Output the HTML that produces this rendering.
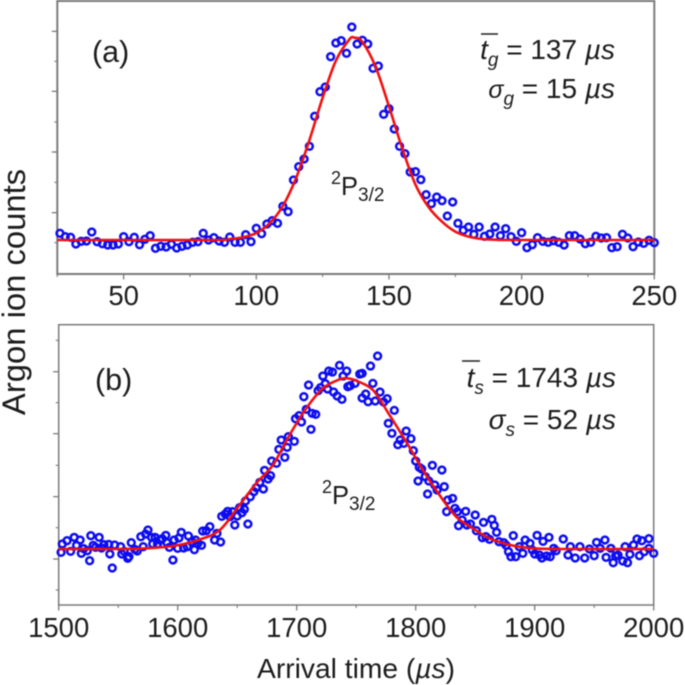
<!DOCTYPE html>
<html lang="en">
<head>
<meta charset="utf-8">
<title>Argon ion arrival time</title>
<style>
html,body{margin:0;padding:0;background:#fff;width:685px;height:685px;overflow:hidden}
svg{display:block;filter:blur(0.4px)}
text{font-family:"Liberation Sans",sans-serif;fill:#1c1c1c}
</style>
</head>
<body>
<svg id="chart" xmlns="http://www.w3.org/2000/svg" width="685" height="685" viewBox="0 0 685 685">
  <text transform="translate(25,292) rotate(-90)" text-anchor="middle" font-size="32.8">Argon ion counts</text>
  <text x="356" y="678" text-anchor="middle" font-size="28.2">Arrival time (<tspan font-style="italic">µs</tspan>)</text>

  <text x="92" y="62" font-size="30.5">(a)</text>
  <text x="95" y="390" font-size="30.5">(b)</text>

  <g>
    <line x1="481" y1="34" x2="498" y2="34" stroke="#222" stroke-width="1.4"></line>
    <text x="615" y="59" text-anchor="end" font-size="28"><tspan font-style="italic">t</tspan><tspan font-style="italic" font-size="19" dy="7">g</tspan><tspan dy="-7"> = 137 </tspan><tspan font-style="italic">µs</tspan></text>
  </g>
  <text x="615" y="98" text-anchor="end" font-size="28"><tspan font-style="italic" font-size="25">σ</tspan><tspan font-style="italic" font-size="19" dy="7">g</tspan><tspan dy="-7"> = 15 </tspan><tspan font-style="italic">µs</tspan></text>

  <g>
    <line x1="462" y1="361" x2="480" y2="361" stroke="#222" stroke-width="1.4"></line>
    <text x="616" y="387" text-anchor="end" font-size="28"><tspan font-style="italic">t</tspan><tspan font-style="italic" font-size="19" dy="7">s</tspan><tspan dy="-7"> = 1743 </tspan><tspan font-style="italic">µs</tspan></text>
  </g>
  <text x="616" y="429" text-anchor="end" font-size="28"><tspan font-style="italic">σ</tspan><tspan font-style="italic" font-size="19" dy="7">s</tspan><tspan dy="-7"> = 52 </tspan><tspan font-style="italic">µs</tspan></text>

  <text x="331" y="195" font-size="25.5"><tspan font-size="18" dy="-11">2</tspan><tspan dy="11">P</tspan><tspan font-size="19" dy="6">3/2</tspan></text>
  <text x="322" y="504" font-size="25.5"><tspan font-size="18" dy="-11">2</tspan><tspan dy="11">P</tspan><tspan font-size="19" dy="6">3/2</tspan></text>
</svg>
<script>
const timesA = [26,28,30,32,34,36,38,40,42,44,46,48,50,52,54,56,58,60,62,64,66,68,70,72,74,76,78,80,82,84,86,88,90,92,94,96,98,100,102,104,106,108,110,112,114,116,118,120,122,124,126,128,130,132,134,136,138,140,142,144,146,148,150,152,154,156,158,160,162,164,166,168,170,172,174,176,178,180,182,184,186,188,190,192,194,196,198,200,202,204,206,208,210,212,214,216,218,220,222,224,226,228,230,232,234,236,238,240,242,244,246,248,250];
const countsA = [122,112,110,90,98,99,126,97,91,87,87,90,112,97,110,88,104,115,77,83,81,89,78,83,87,95,97,122,102,109,99,95,111,95,95,118,97,137,121,150,160,152,203,187,282,322,345,383,473,547,561,652,693,700,662,741,690,701,690,617,624,479,496,435,383,361,306,307,283,238,211,231,220,174,216,152,131,141,119,141,113,120,141,115,136,112,98,124,79,88,109,98,95,100,95,87,115,115,105,91,95,113,108,109,79,82,119,108,82,96,92,101,94];
const fitTimesA = [25,50,85,90,95,100,105,110,115,120,125,130,135,137,140,145,150,155,160,165,170,175,180,185,190,195,220,250];
const fitCountsA = [102,102,102,105,110,123,152,204,288,401,529,640,703,709,696,621,503,377,268,200,157,127,112,105,103,102,102,102];
const timesB = [1502,1503,1507,1510,1513,1515,1518,1519,1521,1524,1526,1527,1529,1531,1534,1536,1538,1542,1543,1545,1547,1552,1553,1555,1558,1559,1561,1564,1566,1569,1571,1573,1575,1578,1579,1581,1583,1585,1587,1590,1591,1593,1596,1597,1600,1601,1603,1605,1608,1609,1612,1614,1615,1617,1620,1621,1624,1627,1631,1633,1636,1637,1640,1642,1644,1646,1648,1650,1652,1654,1656,1657,1659,1661,1664,1666,1669,1672,1673,1676,1678,1679,1683,1685,1687,1690,1692,1693,1698,1699,1702,1704,1706,1708,1710,1712,1713,1716,1718,1720,1722,1724,1726,1727,1730,1731,1734,1736,1738,1739,1742,1743,1745,1749,1753,1755,1755,1758,1760,1762,1764,1766,1768,1770,1773,1776,1777,1780,1782,1785,1787,1790,1792,1796,1798,1800,1802,1803,1805,1808,1810,1811,1814,1816,1818,1822,1824,1826,1827,1831,1833,1835,1836,1839,1842,1843,1846,1850,1851,1856,1857,1859,1862,1864,1866,1868,1870,1874,1876,1878,1880,1882,1884,1887,1890,1892,1896,1898,1900,1902,1904,1906,1907,1910,1912,1913,1916,1918,1924,1928,1930,1934,1938,1942,1946,1950,1952,1955,1959,1960,1964,1966,1968,1970,1974,1976,1978,1980,1983,1986,1988,1990,1992,1996,1996,2000];
const countsB = [158,183,193,161,203,179,195,155,169,163,133,208,179,173,203,171,181,182,153,111,180,175,153,161,140,145,187,167,162,205,175,213,225,203,183,203,183,195,199,209,187,173,135,195,170,201,218,171,175,207,190,166,195,185,179,222,223,235,195,215,189,266,273,281,265,280,240,267,292,277,287,312,243,325,340,352,368,348,404,378,388,432,425,467,495,443,473,505,491,559,568,549,625,587,660,527,575,572,643,652,687,664,648,702,699,639,627,719,617,687,702,655,658,665,693,695,621,633,610,717,665,612,747,639,609,619,545,515,584,481,495,485,522,499,463,432,372,413,408,385,333,372,419,360,345,405,355,280,315,320,290,280,238,255,281,240,243,270,223,202,248,205,197,257,239,218,190,187,179,160,145,208,145,175,155,195,185,165,153,209,150,141,191,147,203,145,170,163,198,150,175,141,175,141,168,148,188,170,195,143,170,127,147,150,132,175,127,152,180,198,148,193,160,199,170,155];
const fitTimesB = [1500,1540,1568,1596,1619,1636,1652,1666,1680,1694,1708,1722,1736,1743,1750,1764,1778,1792,1806,1820,1834,1848,1862,1876,1890,1904,1930,2000];
const fitCountsB = [168,168,169,177,197,227,300,365,420,510,590,650,677,680,673,645,570,490,405,330,265,230,200,183,173,169,168,168];
const xTicksMajorA = [50,100,150,200,250];
const xTicksMinorA = [25,75,125,175,225];
const yTicksMajorA = [184,366,548,728];
const yTicksMinorA = [94,275,456,638];
const xTicksMajorB = [1500,1600,1700,1800,1900,2000];
const xTicksMinorB = [1550,1650,1750,1850,1950];
const yTicksMajorB = [138,325,514,700];
const yTicksMinorB = [45,232,419,607,794];

const NS = 'http://www.w3.org/2000/svg';
const svg = document.getElementById('chart');
function linear(d0, d1, r0, r1) {
  return function (v) { return r0 + (v - d0) * (r1 - r0) / (d1 - d0); };
}
function make(tag, attrs, parent) {
  const el = document.createElementNS(NS, tag);
  for (const k in attrs) el.setAttribute(k, attrs[k]);
  parent.appendChild(el);
  return el;
}
function smoothPath(xs, ys) {
  let d = 'M' + xs[0].toFixed(2) + ' ' + ys[0].toFixed(2);
  for (let i = 0; i < xs.length - 1; i++) {
    const a = Math.max(i - 1, 0), b = Math.min(i + 2, xs.length - 1);
    const c1x = xs[i] + (xs[i + 1] - xs[a]) / 6, c1y = ys[i] + (ys[i + 1] - ys[a]) / 6;
    const c2x = xs[i + 1] - (xs[b] - xs[i]) / 6, c2y = ys[i + 1] - (ys[b] - ys[i]) / 6;
    d += 'C' + c1x.toFixed(2) + ' ' + c1y.toFixed(2) + ' ' + c2x.toFixed(2) + ' ' + c2y.toFixed(2) + ' ' + xs[i + 1].toFixed(2) + ' ' + ys[i + 1].toFixed(2);
  }
  return d;
}
function drawPanel(cfg) {
  const g = make('g', {}, svg);
  
  
  const L = cfg.left, R = cfg.right, T = cfg.top, B = cfg.bottom;
  const x = linear(cfg.xMin, cfg.xMax, L, R);
  const y = linear(0, cfg.yMax, B, T);

  const frame = make('rect', {x: L, y: T, width: R - L, height: B - T, fill: 'none', stroke: '#7a7a7a', 'stroke-width': cfg.frameWidth}, g);
  
  

  cfg.xMajor.forEach(function (v) {
    const t = make('line', {x1: x(v), x2: x(v), y1: B, y2: B + 5.5, stroke: '#7a7a7a', 'stroke-width': 1.3}, g);
    
    
    const lab = make('text', {x: x(v), y: B + cfg.labelOffset, 'text-anchor': 'middle', 'font-size': 27.5}, g);
    lab.textContent = String(v);
    
    
  });
  cfg.xMinor.forEach(function (v) {
    const t = make('line', {x1: x(v), x2: x(v), y1: B, y2: B + 3, stroke: '#7a7a7a', 'stroke-width': 1.1}, g);
    
    
  });
  cfg.yMajor.forEach(function (v) {
    const t = make('line', {x1: L - 5.5, x2: L, y1: y(v), y2: y(v), stroke: '#7a7a7a', 'stroke-width': 1.3}, g);
    
    
  });
  cfg.yMinor.forEach(function (v) {
    const t = make('line', {x1: L - 3, x2: L, y1: y(v), y2: y(v), stroke: '#7a7a7a', 'stroke-width': 1.1}, g);
    
    
  });

  const pts = make('g', {fill: 'none', stroke: '#0c0cf0', 'stroke-width': 2.5}, g);
  
  
  cfg.times.forEach(function (t, i) {
    const c = make('circle', {cx: x(t).toFixed(2), cy: y(cfg.counts[i]).toFixed(2), r: 3.4}, pts);
    
    
  });

  const fit = make('path', {
    d: smoothPath(cfg.fitTimes.map(x), cfg.fitCounts.map(y)),
    fill: 'none', stroke: '#f01010', 'stroke-width': 2.6
  }, g);
  
  
}
drawPanel({
  name: 'panel-a', left: 57.3, right: 654.3, top: 1, bottom: 274,
  xMin: 25, xMax: 250, yMax: 819, labelOffset: 31, frameWidth: 2,
  xMajor: xTicksMajorA, xMinor: xTicksMinorA, yMajor: yTicksMajorA, yMinor: yTicksMinorA,
  times: timesA, counts: countsA, fitTimes: fitTimesA, fitCounts: fitCountsA
});
drawPanel({
  name: 'panel-b', left: 58.7, right: 653.7, top: 324.7, bottom: 605,
  xMin: 1500, xMax: 2000, yMax: 841, labelOffset: 32, frameWidth: 1.5,
  xMajor: xTicksMajorB, xMinor: xTicksMinorB, yMajor: yTicksMajorB, yMinor: yTicksMinorB,
  times: timesB, counts: countsB, fitTimes: fitTimesB, fitCounts: fitCountsB
});
</script>
</body>
</html>
